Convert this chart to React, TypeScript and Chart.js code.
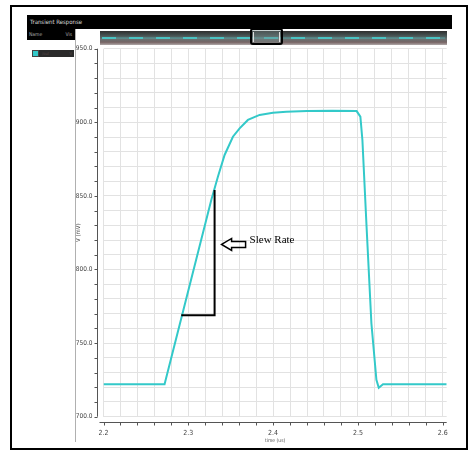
import React, { useEffect, useRef } from 'react';
import { Chart, registerables } from 'chart.js';

Chart.register(...registerables);

// ---- data (time in us, voltage in mV) ----
const timeUs = [2.2, 2.272, 2.3271, 2.3349, 2.3428, 2.3526, 2.3605, 2.3703, 2.3841, 2.3998, 2.4156, 2.44, 2.47, 2.4985, 2.5029, 2.5053, 2.51, 2.5159, 2.5218, 2.5246, 2.5296, 2.56, 2.6047];
const voltageMv = [722, 722, 847.2, 863, 877.8, 890.2, 895.9, 901.6, 905, 906.5, 907.2, 907.6, 907.8, 907.6, 903.8, 888, 831.4, 763.5, 725, 719.7, 722, 722, 722];

const xMajorTicks = [2.2, 2.3, 2.4, 2.5, 2.6];
const yMajorTicks = [700, 750, 800, 850, 900, 950];
const xMinorStep = 0.02;
const yMinorStep = 10;

// slew-rate annotation (data units)
const slewTopMv = 854;
const slewBottomMv = 769;
const slewLeftUs = 2.2917;
const slewRightUs = 2.331;
const slewLabelMv = 817;
const slewLabel = 'Slew Rate';

const xGrid: number[] = [];
for (let i = 0; i <= 20; i++) xGrid.push(+(2.2 + i * xMinorStep).toFixed(3));
const yGrid: number[] = [];
for (let i = 0; i <= 25; i++) yGrid.push(700 + i * yMinorStep);

const GRID = '#e2e2e2';
const CYAN = '#33c9c9';
const TICK_FONT = "'Liberation Sans Narrow', 'DejaVu Sans Condensed', sans-serif";

const isMajor = (v: number, list: number[]) => list.some((m) => Math.abs(m - v) < 1e-6);

const overlayPlugin = {
  id: 'overlay',
  afterDraw(chart: any) {
    const { ctx, chartArea: a, scales } = chart;
    const x = scales.x;
    const y = scales.y;
    ctx.save();
    // detached axes
    ctx.strokeStyle = '#555';
    ctx.lineWidth = 1;
    const ax = Math.round(a.left - 7) + 0.5;
    ctx.beginPath();
    ctx.moveTo(ax, y.getPixelForValue(950));
    ctx.lineTo(ax, y.getPixelForValue(700));
    yGrid.forEach((v) => {
      const py = Math.round(y.getPixelForValue(v)) + 0.5;
      ctx.moveTo(ax - 3, py);
      ctx.lineTo(ax, py);
    });
    const ay = Math.round(a.bottom + 5) + 0.5;
    ctx.moveTo(a.left - 4, ay);
    ctx.lineTo(a.right, ay);
    xGrid.forEach((v) => {
      const px = Math.round(x.getPixelForValue(v)) + 0.5;
      ctx.moveTo(px, ay);
      ctx.lineTo(px, ay + 3);
    });
    ctx.stroke();

    // slew rate annotation
    const lx = x.getPixelForValue(slewRightUs);
    const l0 = x.getPixelForValue(slewLeftUs);
    const yt = y.getPixelForValue(slewTopMv);
    const yb = y.getPixelForValue(slewBottomMv);
    ctx.strokeStyle = '#000';
    ctx.lineWidth = 2;
    ctx.beginPath();
    ctx.moveTo(lx, yt);
    ctx.lineTo(lx, yb);
    ctx.lineTo(l0, yb);
    ctx.stroke();

    const cy = y.getPixelForValue(slewLabelMv);
    const tx = lx + 7;
    ctx.lineWidth = 1.5;
    ctx.beginPath();
    ctx.moveTo(tx, cy);
    ctx.lineTo(tx + 10, cy - 6);
    ctx.lineTo(tx + 10, cy - 3);
    ctx.lineTo(tx + 24, cy - 3);
    ctx.lineTo(tx + 24, cy + 3);
    ctx.lineTo(tx + 10, cy + 3);
    ctx.lineTo(tx + 10, cy + 6);
    ctx.closePath();
    ctx.stroke();

    ctx.fillStyle = '#000';
    ctx.font = "11px 'Liberation Serif', serif";
    ctx.textBaseline = 'middle';
    ctx.textAlign = 'left';
    ctx.fillText(slewLabel, tx + 28, cy - 4);
    ctx.restore();
  },
};

function TransientChart() {
  const ref = useRef<HTMLCanvasElement | null>(null);
  useEffect(() => {
    if (!ref.current) return;
    const chart = new Chart(ref.current, {
      type: 'line',
      data: {
        datasets: [
          {
            data: timeUs.map((t, i) => ({ x: t, y: voltageMv[i] })),
            borderColor: CYAN,
            borderWidth: 2,
            pointRadius: 0,
            tension: 0,
            fill: false,
          },
        ],
      },
      options: {
        animation: false,
        responsive: false,
        devicePixelRatio: 1,
        layout: { padding: { top: 19.7, right: 5.3, left: 0, bottom: 0 } },
        plugins: { legend: { display: false }, tooltip: { enabled: false } },
        scales: {
          x: {
            type: 'linear',
            min: 2.2,
            max: 2.6047,
            afterBuildTicks: (s: any) => {
              s.ticks = xGrid.map((v) => ({ value: v }));
            },
            afterFit: (s: any) => {
              s.height = 30.3;
              s.paddingLeft = 0;
              s.paddingRight = 0;
            },
            grid: { color: GRID, drawTicks: false, lineWidth: 1 },
            border: { display: false },
            ticks: {
              autoSkip: false,
              maxRotation: 0,
              padding: 12,
              color: '#444',
              font: { size: 7, family: TICK_FONT },
              callback: (v: any) => (isMajor(Number(v), xMajorTicks) ? Number(v).toFixed(1) : ''),
            },
            title: {
              display: true,
              text: 'time (us)',
              color: '#555',
              font: { size: 5, family: TICK_FONT },
              padding: { top: 0, bottom: 3 },
            },
          },
          y: {
            type: 'linear',
            min: 700,
            max: 950,
            afterBuildTicks: (s: any) => {
              s.ticks = yGrid.map((v) => ({ value: v }));
            },
            afterFit: (s: any) => {
              s.width = 27.5;
              s.paddingTop = 0;
              s.paddingBottom = 0;
            },
            grid: { color: GRID, drawTicks: false, lineWidth: 1 },
            border: { display: false },
            ticks: {
              autoSkip: false,
              padding: 11,
              color: '#444',
              font: { size: 6.5, family: TICK_FONT },
              callback: (v: any) => (isMajor(Number(v), yMajorTicks) ? Number(v).toFixed(1) : ''),
            },
            title: {
              display: true,
              text: 'V (mV)',
              color: '#555',
              font: { size: 6, family: TICK_FONT },
              padding: { top: -1, bottom: 0 },
            },
          },
        },
      },
      plugins: [overlayPlugin],
    } as any);
    return () => chart.destroy();
  }, []);
  return <canvas ref={ref} width={376} height={418} style={{ display: 'block', width: 376, height: 418 }} />;
}

const abs = (l: number, t: number, w: number, h: number): React.CSSProperties => ({
  position: 'absolute',
  left: l,
  top: t,
  width: w,
  height: h,
  boxSizing: 'border-box',
});

export default function App() {
  return (
    <div style={{ position: 'fixed', left: 0, top: 0, width: 474, height: 453, background: '#fff', overflow: 'hidden', fontFamily: TICK_FONT }}>
      <div style={{ ...abs(10, 5, 458, 445), border: '2px solid #000' }} />
      <div style={{ ...abs(27, 15, 425, 14), background: '#000', color: '#ddd', fontSize: 6, lineHeight: '14px', paddingLeft: 3 }}>
        Transient Response
      </div>
      <div style={{ ...abs(27, 29, 48, 11), background: '#000', color: '#aaa', fontSize: 5, lineHeight: '11px' }}>
        <span style={{ position: 'absolute', left: 2 }}>Name</span>
        <span style={{ position: 'absolute', right: 3 }}>Vis</span>
      </div>
      <div style={{ ...abs(32, 50, 7, 7), background: CYAN, border: '1px solid #444' }} />
      <div style={{ ...abs(39, 50, 35, 7), background: '#2a2a2a', color: '#554444', fontSize: 4, lineHeight: '7px' }}>
        <span style={{ position: 'absolute', left: 3 }}>/out</span>
        <span style={{ position: 'absolute', right: 2 }}>V</span>
      </div>
      <div style={{ ...abs(75, 29, 1, 413), background: '#b0b0b0' }} />
      <div style={{ ...abs(76, 29, 376, 418) }}>
        <TransientChart />
      </div>
      <div
        style={{
          ...abs(100, 31, 347, 14),
          background: 'linear-gradient(to bottom, #2e2e2e 0%, #485656 35%, #667272 55%, #766464 80%, #b0a8a8 100%)',
        }}
      >
        <div
          style={{
            ...abs(2, 6, 343, 2),
            background: 'repeating-linear-gradient(90deg, rgba(70,210,210,0.85) 0 14px, rgba(70,210,210,0.25) 14px 27px)',
          }}
        />
      </div>
      <div style={{ ...abs(250, 28, 33, 17), border: '2px solid #000', borderRadius: 3, background: 'rgba(120,140,140,0.4)' }}>
        <div style={{ ...abs(1, 2, 1, 10), background: '#ddd' }} />
        <div style={{ ...abs(27, 2, 1, 10), background: '#ddd' }} />
      </div>
    </div>
  );
}
